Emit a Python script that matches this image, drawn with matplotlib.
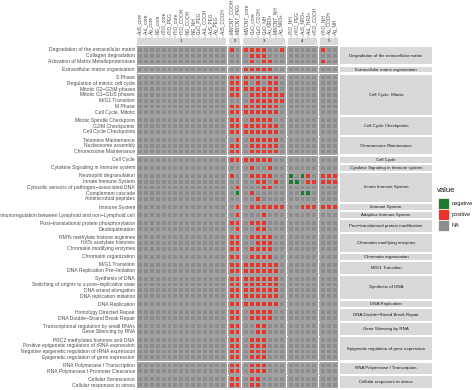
import matplotlib
matplotlib.use("Agg")
import matplotlib.pyplot as plt
from matplotlib.patches import Rectangle
from matplotlib.colors import ListedColormap, BoundaryNorm
import numpy as np

plt.rcParams['font.family'] = ['Liberation Sans', 'DejaVu Sans']

# ---------------- data ----------------
col_group_names = ["1", "2", "3", "4", "5"]
cols_g1 = ["AuS_core", "AuL_core", "Ag_core", "NG_core", "nTiO_core", "rTiO_PEG", "rTiO_core",
           "rTiO_COOH", "NG_COOH", "NG_NH", "CuO_PEG", "AuL_COOH", "AuS_PEG", "Ag_PEG", "AuS_COOH"]
cols_g2 = ["MWCNT_COOH", "MWCNT_PEG"]
cols_g3 = ["MWCNT_core", "CuO_core", "CuO_COOH", "CuO_NH", "Au_NR3+", "MWCNT_NH", "Ag_NR3+"]
cols_g4 = ["rTiO_NH", "nTiO_PEG", "AuS_NR3+", "AuL_NR3+", "nTiO_COOH"]
cols_g5 = ["nTiO_NH", "Ag_COOH", "Ag_NH"]

row_groups = [
    "Degradation of the extracellular matrix", "Extracellular matrix organization",
    "Cell Cycle, Mitotic", "Cell Cycle Checkpoints", "Chromosome Maintenance", "Cell Cycle",
    "Cytokine Signaling in Immune system", "Innate Immune System", "Immune System",
    "Adaptive Immune System", "Post\u2212translational protein modification",
    "Chromatin modifying enzymes", "Chromatin organization", "M/G1 Transition",
    "Synthesis of DNA", "DNA Replication", "DNA Double\u2212Strand Break Repair",
    "Gene Silencing by RNA", "Epigenetic regulation of gene expression",
    "RNA Polymerase I Transcription", "Cellular responses to stress",
]
rows_per_group = [3, 1, 7, 3, 3, 1, 1, 5, 1, 1, 2, 3, 1, 2, 4, 1, 2, 2, 4, 2, 2]

pathways = [
    "Degradation of the extracellular matrix", "Collagen degradation",
    "Activation of Matrix Metalloproteinases",
    "Extracellular matrix organization",
    "S Phase", "Regulation of mitotic cell cycle", "Mitotic G2\u2212G2/M phases",
    "Mitotic G1\u2212G1/S phases", "M/G1 Transition", "M Phase", "Cell Cycle, Mitotic",
    "Mitotic Spindle Checkpoint", "G2/M Checkpoints", "Cell Cycle Checkpoints",
    "Telomere Maintenance", "Nucleosome assembly", "Chromosome Maintenance",
    "Cell Cycle",
    "Cytokine Signaling in Immune system",
    "Neutrophil degranulation", "Innate Immune System",
    "Cytosolic sensors of pathogen\u2212associated DNA", "Complement cascade",
    "Antimicrobial peptides",
    "Immune System",
    "Immunoregulation between Lymphoid and non\u2212Lymphoid cell",
    "Post\u2212translational protein phosphorylation", "Deubiquitination",
    "RMTs methylate histone arginines", "HATs acetylate histones",
    "Chromatin modifying enzymes",
    "Chromatin organization",
    "M/G1 Transition", "DNA Replication Pre\u2212Initiation",
    "Synthesis of DNA", "Switching of origins to a post\u2212replicative state",
    "DNA strand elongation", "DNA replication initiation",
    "DNA Replication",
    "Homology Directed Repair", "DNA Double\u2212Strand Break Repair",
    "Transcriptional regulation by small RNAs", "Gene Silencing by RNA",
    "PRC2 methylates histones and DNA",
    "Positive epigenetic regulation of rRNA expression",
    "Negative epigenetic regulation of rRNA expression",
    "Epigenetic regulation of gene expression",
    "RNA Polymerase I Transcription", "RNA Polymerase I Promoter Clearance",
    "Cellular Senescence", "Cellular responses to stress",
]

# p = positive, n = negative, . = NA ; blocks: group1|group2|group3|group4|group5
values = [
    "...............|p.|pppp..p|.....|p..",
    "...............|..|.ppp...|.....|...",
    "...............|..|.p.pp..|.....|p..",
    "...............|..|ppppp..|.....|...",
    "...............|pp|pppppp.|.....|...",
    "...............|pp|p.p.pp.|.....|...",
    "...............|pp|pppppp.|.....|...",
    "...............|pp|.pppppp|.....|...",
    "...............|..|.pppppp|.....|...",
    "...............|pp|pppppp.|.....|...",
    "...............|pp|pppppp.|.....|...",
    "...............|pp|.pppp..|.....|...",
    "...............|pp|pppppp.|.....|...",
    "...............|pp|pppppp.|.....|...",
    "...............|.p|.ppppp.|.....|...",
    "...............|pp|.ppppp.|.....|...",
    "...............|pp|.ppppp.|.....|...",
    "...............|pp|ppppp..|.....|...",
    "...............|..|.p..p..|.....|...",
    "...............|p.|.pppp..|n.np.|ppp",
    "...............|..|..pp.p.|nn.pp|ppp",
    "...............|.p|...pp..|.....|...",
    "...............|.n|.p.....|..nn.|...",
    "...............|..|..p....|.....|...",
    "...............|.p|.pppppp|..ppp|ppp",
    "...............|.p|...p...|.....|...",
    "...............|pp|.ppp...|.....|...",
    "...............|.p|..pp...|.....|...",
    "...............|pp|.pppp..|.....|...",
    "...............|pp|..ppp..|.....|...",
    "...............|pp|.pppp..|.....|...",
    "...............|pp|.pppp..|.....|...",
    "...............|pp|pppppp.|.....|...",
    "...............|pp|pppppp.|.....|...",
    "...............|pp|pppppp.|.....|...",
    "...............|pp|pppppp.|.....|...",
    "...............|pp|pppppp.|.....|...",
    "...............|pp|pppppp.|.....|...",
    "...............|pp|pppppp.|.....|...",
    "...............|pp|.pppp..|.....|...",
    "...............|pp|.pppp..|.....|...",
    "...............|pp|..pp...|.....|...",
    "...............|pp|..pp...|.....|...",
    "...............|pp|.ppp...|.....|...",
    "...............|pp|.ppp...|.....|...",
    "...............|pp|.ppp...|.....|...",
    "...............|pp|.ppp...|.....|...",
    "...............|pp|.ppp...|.....|...",
    "...............|pp|.ppp...|.....|...",
    "...............|pp|.pp....|.....|...",
    "...............|pp|.pp....|.....|...",
]

legend_labels = ["negative", "positive", "NA"]

# ---------------- styling ----------------
RED = "#e8352b"
GREEN = "#1d7a32"
NA_GREY = "#8d8d8d"
GRID = "#a2a2a2"
STRIP_BG = "#d9d9d9"
LABEL_C = "#4d4d4d"
STRIP_TXT = "#1a1a1a"

col_lists = [cols_g1, cols_g2, cols_g3, cols_g4, cols_g5]
code = {"p": 1.0, "n": -1.0, ".": np.nan}
blocks_per_row = [[[code[c] for c in blk] for blk in s.split("|")] for s in values]

GX, GY, STRIP, SG = 0.5, 0.4, 1.2, 0.35

x_starts, x = [], 0.0
for cl in col_lists:
    x_starts.append(x)
    x += len(cl) + GX
xmax = x - GX

y_starts, y = [], STRIP + SG
row_start_idx, r = [], 0
for n in rows_per_group:
    y_starts.append(y)
    row_start_idx.append(r)
    y += n + GY
    r += n
ymax = y - GY

W, H = 474, 390
fig = plt.figure(figsize=(W / 100, H / 100), dpi=100)
ax = fig.add_axes([137 / W, 1 - 388 / H, (338 - 137) / W, (388 - 38) / H])
ax.set_xlim(0, xmax)
ax.set_ylim(ymax, 0)
ax.axis("off")

cmap = ListedColormap([GREEN, RED])
cmap.set_bad(NA_GREY)
norm = BoundaryNorm([-1.5, 0, 1.5], 2)

for gi, n in enumerate(rows_per_group):
    r0 = row_start_idx[gi]
    for ci, cl in enumerate(col_lists):
        sub = np.array([blocks_per_row[r0 + k][ci] for k in range(n)], dtype=float)
        X = x_starts[ci] + np.arange(len(cl) + 1)
        Y = y_starts[gi] + np.arange(n + 1)
        ax.pcolormesh(X, Y, np.ma.masked_invalid(sub), cmap=cmap, norm=norm,
                      edgecolors=GRID, linewidth=0.2)

# top strips, ticks and column labels
for ci, cl in enumerate(col_lists):
    ax.add_patch(Rectangle((x_starts[ci], 0), len(cl), STRIP, fc=STRIP_BG, ec="none",
                           clip_on=False))
    ax.text(x_starts[ci] + len(cl) / 2, STRIP / 2, col_group_names[ci], ha="center",
            va="center", fontsize=3.2, color=STRIP_TXT)
    for k, name in enumerate(cl):
        xc = x_starts[ci] + k + 0.5
        ax.plot([xc, xc], [-0.45, 0], color="#7a7a7a", lw=0.3, clip_on=False)
        ax.text(xc, -0.7, name, rotation=90, ha="center", va="bottom", fontsize=3.4,
                color=LABEL_C)

# row labels and right strips
rx0 = xmax + 0.35
rx1 = xmax + 15.9
for gi, n in enumerate(rows_per_group):
    r0 = row_start_idx[gi]
    for k in range(n):
        ax.text(-0.35, y_starts[gi] + k + 0.5, pathways[r0 + k], ha="right", va="center",
                fontsize=3.6, color=LABEL_C)
    ax.add_patch(Rectangle((rx0, y_starts[gi]), rx1 - rx0, n, fc=STRIP_BG, ec="none",
                           clip_on=False))
    ax.text((rx0 + rx1) / 2, y_starts[gi] + n / 2, row_groups[gi], ha="center",
            va="center", fontsize=3.2, color=STRIP_TXT)

# legend
fig.text(437 / W, 1 - 191 / H, "value", fontsize=5.5, color="#1a1a1a", va="center")
leg_cols = [GREEN, RED, NA_GREY]
for i, (lab, c) in enumerate(zip(legend_labels, leg_cols)):
    y0 = 198 + i * 11
    fig.add_artist(Rectangle((438 / W, 1 - (y0 + 11) / H), 11 / W, 11 / H, fc=c, ec="white",
                             lw=0.5, transform=fig.transFigure))
    fig.text(452 / W, 1 - (y0 + 5.5) / H, lab, fontsize=4.1, color="#1a1a1a", va="center")

fig.savefig("out.png", dpi=100)
